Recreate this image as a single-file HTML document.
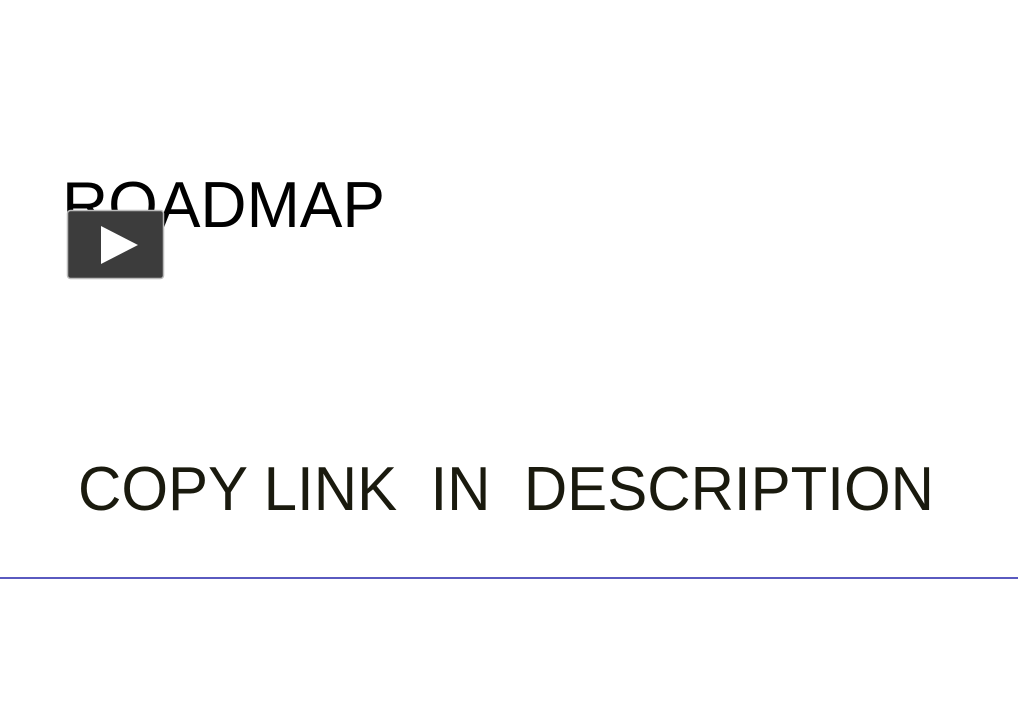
<!DOCTYPE html>
<html><head><meta charset="utf-8"><style>
html,body{margin:0;padding:0;background:#fff;width:1018px;height:720px;overflow:hidden}
</style></head><body>
<svg width="1018" height="720" xmlns="http://www.w3.org/2000/svg">
<rect width="1018" height="720" fill="#fff"/>
<text x="62" y="227" font-family="Liberation Sans, sans-serif" font-size="65" fill="#000" textLength="323" lengthAdjust="spacingAndGlyphs">ROADMAP</text>
<rect x="67.5" y="210.5" width="96" height="68" rx="3" fill="#3c3c3c" stroke="#bbb" stroke-width="1.5"/>
<polygon points="101,226 101,264 138,245" fill="#fff"/>
<text x="78" y="510" font-family="Liberation Sans, sans-serif" font-size="62" fill="#1a1a0e" textLength="856" lengthAdjust="spacingAndGlyphs" xml:space="preserve">COPY LINK  IN  DESCRIPTION</text>
<rect x="0" y="577" width="1018" height="2" fill="#5a5ac0"/>
</svg>
</body></html>
